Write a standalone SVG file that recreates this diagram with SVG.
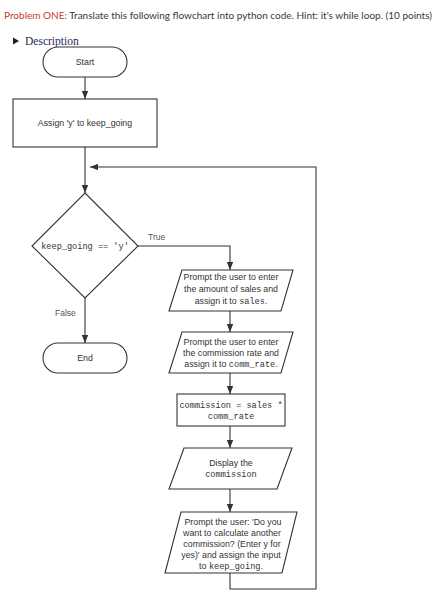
<svg xmlns="http://www.w3.org/2000/svg" width="446" height="605" viewBox="0 0 446 605">
<style>
.shape{fill:#fff;stroke:#333;stroke-width:1.1}
.ln{fill:none;stroke:#333;stroke-width:1.1}
.t{font-family:"Liberation Sans",Arial,sans-serif;font-size:8.8px;fill:#333;text-anchor:middle}
.m{font-family:"Liberation Mono","DejaVu Sans Mono",monospace;font-size:8.6px;fill:#333}
.lbl{font-family:"Liberation Sans",Arial,sans-serif;font-size:8.5px;fill:#555}
</style>
<defs>
<marker id="ah" viewBox="0 0 10 8" refX="10" refY="4" markerWidth="8" markerHeight="6.4" markerUnits="userSpaceOnUse" orient="auto">
<path d="M0,0 L10,4 L0,8 Z" fill="#333"/>
</marker>
</defs>
<rect width="446" height="605" fill="#fff"/>
<g id="title">
<text x="4" y="19" font-family="Lato,'Liberation Sans',sans-serif" font-size="10" fill="#2d3b45" textLength="428" lengthAdjust="spacingAndGlyphs"><tspan fill="#c8373a">Problem ONE:</tspan> Translate this following flowchart into python code. Hint: it's while loop. (10 points)</text>
</g>
<g id="description">
<polygon points="13,37.5 19,41 13,44.5" fill="#222"/>
<text x="25" y="45" font-family="'Liberation Serif','Times New Roman',serif" font-size="11.5" fill="#1b2a55">Description</text>
</g>
<g id="connectors">
<line class="ln" x1="85" y1="77" x2="85" y2="99" marker-end="url(#ah)"/>
<line class="ln" x1="85" y1="147" x2="85" y2="193" marker-end="url(#ah)"/>
<path class="ln" d="M138,246 H230 V270" marker-end="url(#ah)"/>
<line class="ln" x1="85" y1="298" x2="85" y2="343" marker-end="url(#ah)"/>
<line class="ln" x1="230" y1="311" x2="230" y2="332" marker-end="url(#ah)"/>
<line class="ln" x1="230" y1="373" x2="230" y2="394" marker-end="url(#ah)"/>
<line class="ln" x1="230" y1="426" x2="230" y2="448" marker-end="url(#ah)"/>
<line class="ln" x1="230" y1="489" x2="230" y2="512" marker-end="url(#ah)"/>
<path class="ln" d="M230,573 V589 H316 V167 H90" marker-end="url(#ah)"/>
<text class="lbl" x="148" y="240">True</text>
<text class="lbl" x="55" y="316">False</text>
</g>
<g id="start">
<rect class="shape" x="43" y="47" width="84" height="30" rx="15"/>
<text class="t" x="85" y="65">Start</text>
</g>
<g id="assign">
<rect class="shape" x="13" y="99" width="144" height="48"/>
<text class="t" x="85" y="126">Assign 'y' to keep_going</text>
</g>
<g id="decision">
<polygon class="shape" points="85,193 138,246 85,298 32,246"/>
<text class="m" x="85" y="249" text-anchor="middle">keep_going == 'y'</text>
</g>
<g id="end">
<rect class="shape" x="43" y="343" width="84" height="30" rx="15"/>
<text class="t" x="85" y="361">End</text>
</g>
<g id="input-sales">
<polygon class="shape" points="182,270 293,270 281,311 169,311"/>
<text class="t" x="231" y="280">Prompt the user to enter</text>
<text class="t" x="231" y="292">the amount of sales and</text>
<text class="t" x="231" y="304">assign it to <tspan class="m">sales</tspan>.</text>
</g>
<g id="input-rate">
<polygon class="shape" points="182,332 293,332 281,373 169,373"/>
<text class="t" x="231" y="345">Prompt the user to enter</text>
<text class="t" x="231" y="356">the commission rate and</text>
<text class="t" x="231" y="367">assign it to <tspan class="m">comm_rate</tspan>.</text>
</g>
<g id="calc">
<rect class="shape" x="177" y="394" width="108" height="32"/>
<text class="m" x="231" y="408" text-anchor="middle">commission = sales *</text>
<text class="m" x="231" y="419" text-anchor="middle">comm_rate</text>
</g>
<g id="display">
<polygon class="shape" points="184,448 292,448 277,489 169,489"/>
<text class="t" x="231" y="466">Display the</text>
<text class="m" x="231" y="477" text-anchor="middle">commission</text>
</g>
<g id="input-keep-going">
<polygon class="shape" points="181,512 297,512 282,573 165,573"/>
<text class="t" x="233" y="525">Prompt the user: 'Do you</text>
<text class="t" x="232" y="536">want to calculate another</text>
<text class="t" x="232" y="547">commission? (Enter y for</text>
<text class="t" x="231" y="558">yes)' and assign the input</text>
<text class="t" x="231" y="569">to <tspan class="m">keep_going</tspan>.</text>
</g>
</svg>
